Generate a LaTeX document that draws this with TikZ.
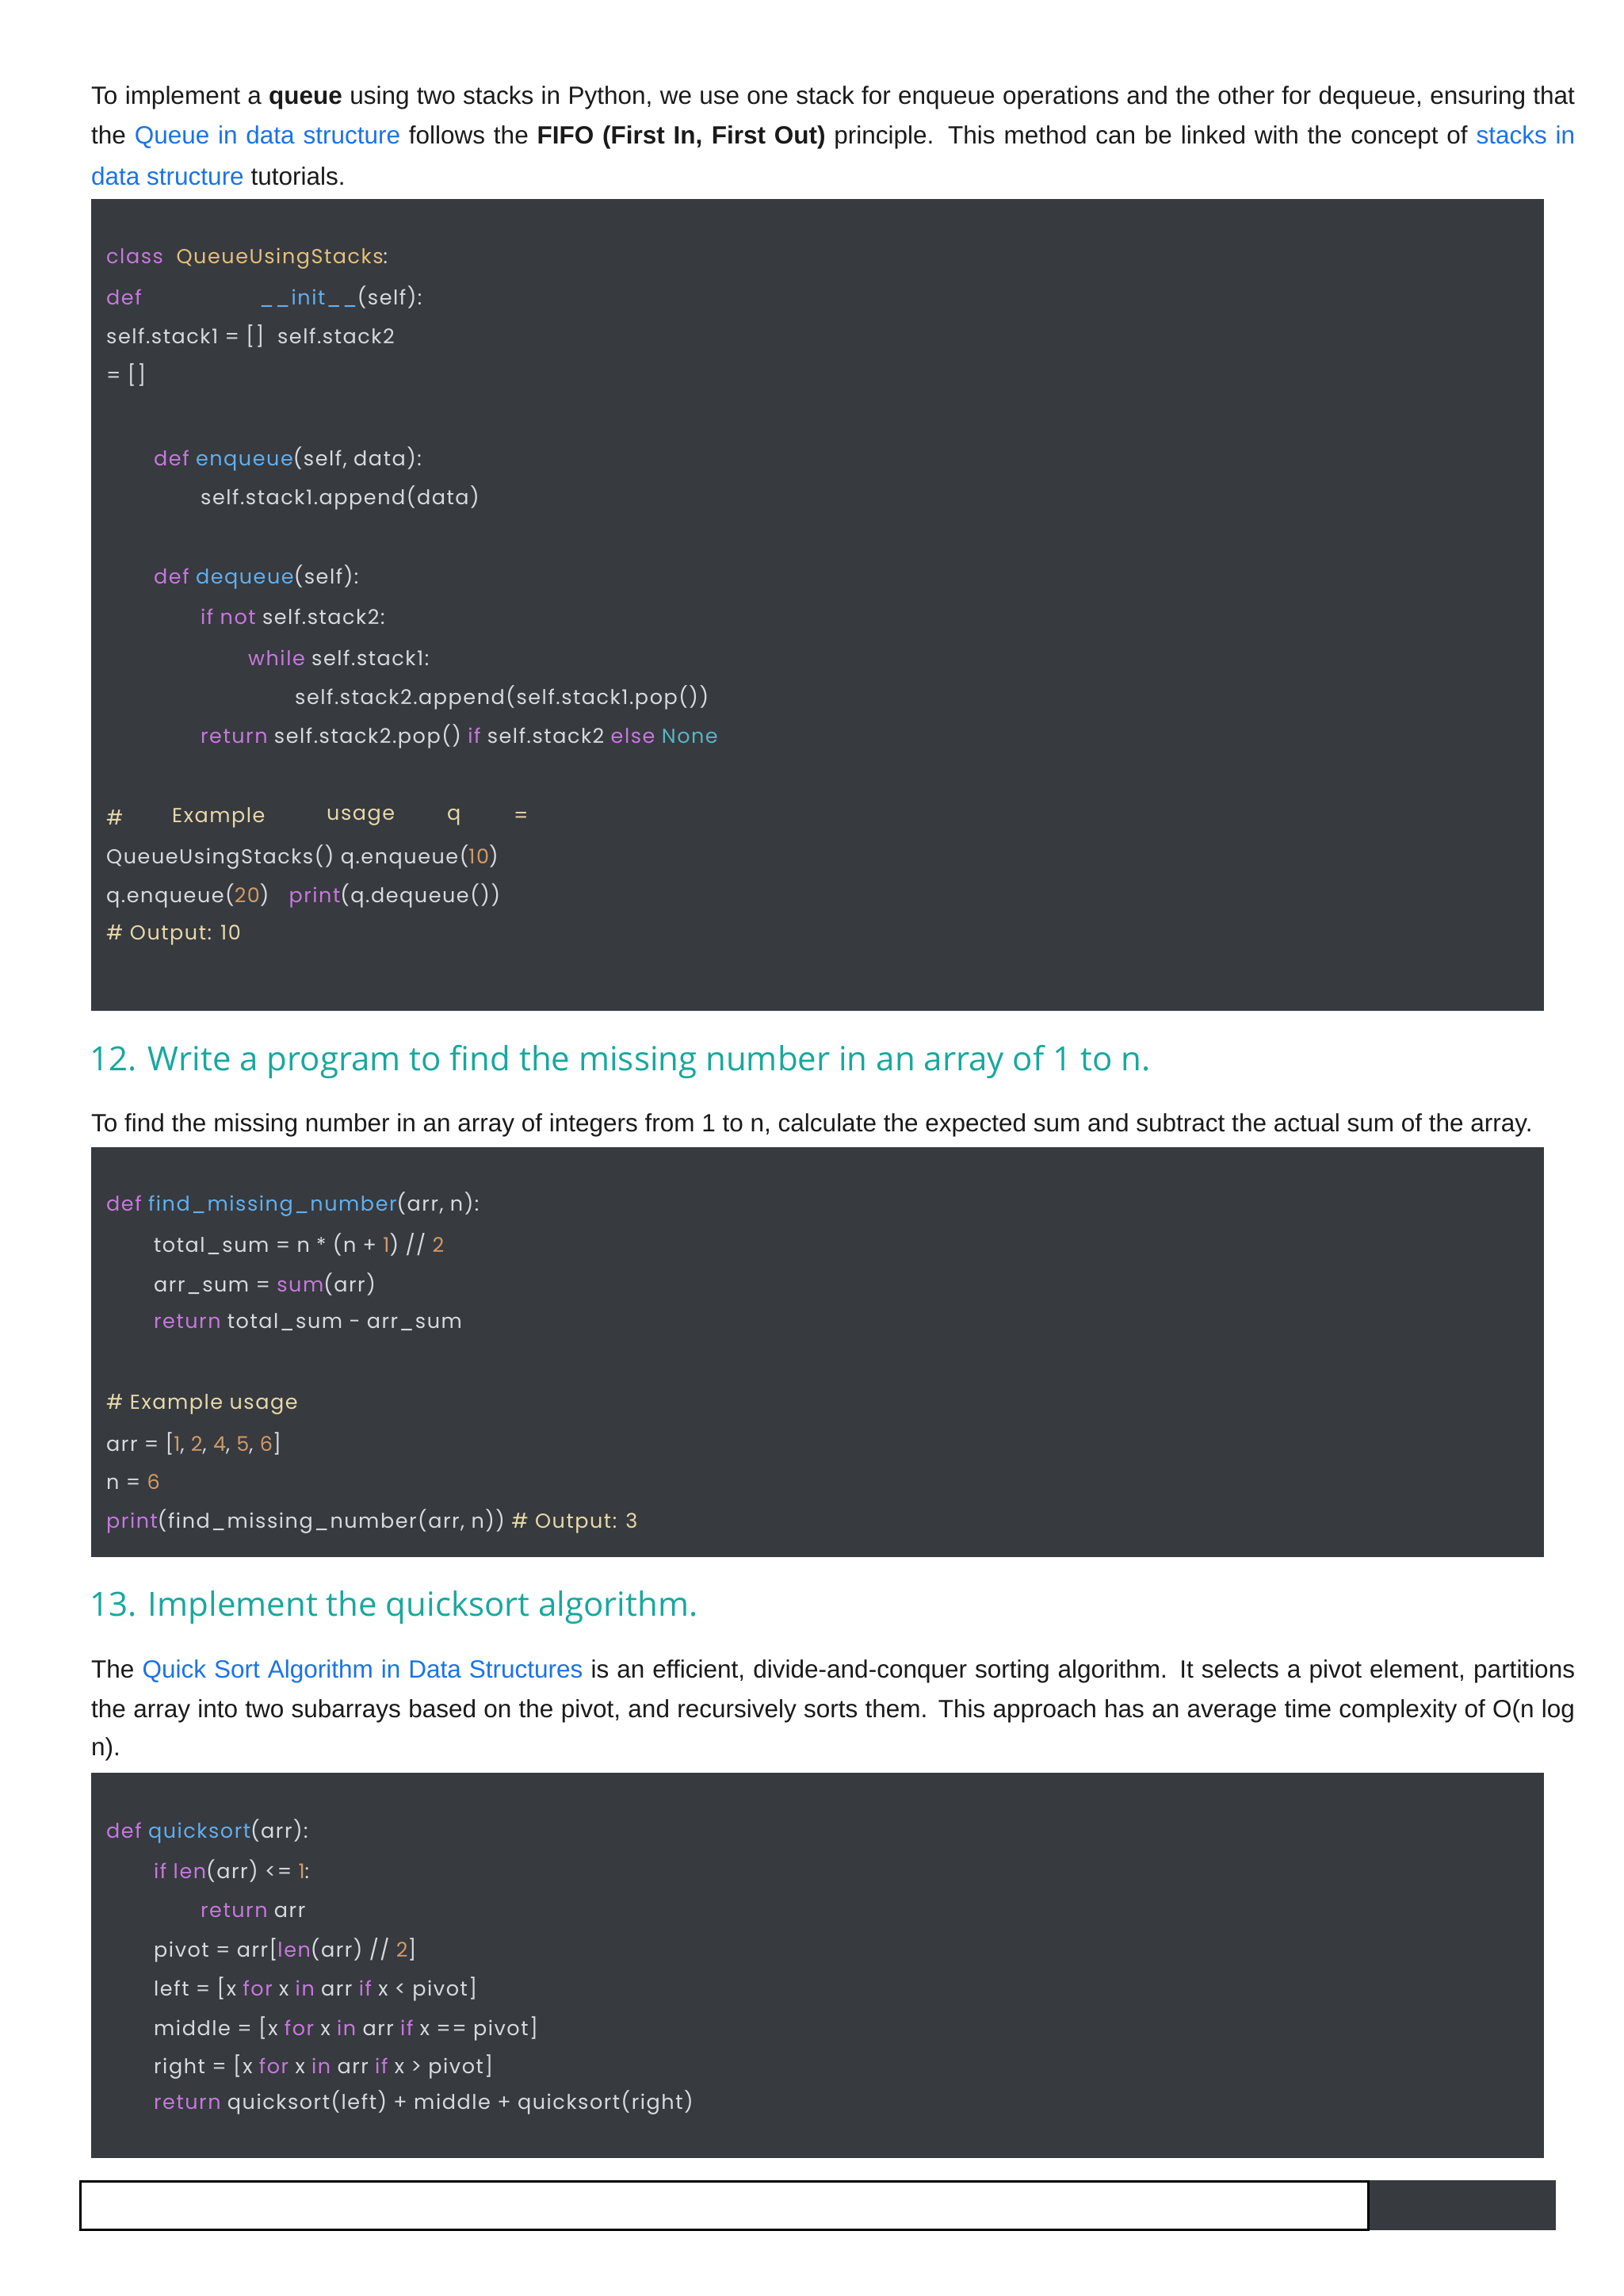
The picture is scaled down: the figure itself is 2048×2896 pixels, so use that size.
\documentclass[tikz,border=0pt]{standalone}
\usepackage{fontspec}
\setmainfont{Liberation Sans}
\newfontfamily\codefont{Poppins}[LetterSpace=6]
\newfontfamily\headfont{Open Sans}
\definecolor{bgc}{HTML}{373A3F}
\definecolor{kw}{HTML}{C678DD}
\definecolor{fn}{HTML}{61AFEF}
\definecolor{cls}{HTML}{E5C07B}
\definecolor{num}{HTML}{D19A66}
\definecolor{txt}{HTML}{D7DADF}
\definecolor{nonec}{HTML}{56B6C2}
\definecolor{cm}{HTML}{E8D9A8}
\definecolor{lnk}{HTML}{1A73E8}
\definecolor{head}{HTML}{17A89E}
\definecolor{body}{HTML}{1A1A1A}
\newcommand{\K}[1]{\textcolor{kw}{#1}}
\newcommand{\F}[1]{\textcolor{fn}{#1}}
\newcommand{\N}[1]{\textcolor{num}{#1}}
\newcommand{\Lk}[1]{\textcolor{lnk}{#1}}
\newcommand{\cl}[4]{\node[codeline] (#1) at (#2,#3) {#4};}
\newcommand{\bl}[4]{\node[bodyline] (#1) at (#2,#3) {#4};}
\begin{document}
\begin{tikzpicture}[x=1pt,y=-1pt,
  codeline/.style={anchor=west,inner sep=0pt,text=txt,font=\codefont\fontsize{25.5}{30}\selectfont},
  bodyline/.style={anchor=west,inner sep=0pt,text=body,font=\fontsize{31.5}{36}\selectfont},
  headline/.style={anchor=west,inner sep=0pt,text=head,font=\headfont\fontsize{42}{48}\selectfont},
  codebox/.style={fill=bgc,draw=none}]
\useasboundingbox[fill=white] (0,0) rectangle (2048,2896);
% paragraph 1
\bl{p1a}{115}{123}{\makebox[1872pt][s]{To implement a \textbf{queue} using two stacks in Python, we use one stack for enqueue operations and the other for dequeue, ensuring that}}
\bl{p1b}{115}{173}{\makebox[1872pt][s]{the \Lk{Queue in data structure} follows the \textbf{FIFO (First In, First Out)} principle. This method can be linked with the concept of \Lk{stacks in}}}
\bl{p1c}{115}{222}{\Lk{data structure} tutorials.}
% box 1
\path[codebox] (115,251) rectangle (1948,1275);
\cl{a1}{134}{326}{\K{class}\ \ \textcolor{cls}{QueueUsingStacks}:}
\cl{a2}{134}{375}{\K{def}}
\cl{a2b}{327}{375}{\F{\_\_init\_\_}(self):}
\cl{a3}{134}{424}{self.stack1 = []\ \ self.stack2}
\cl{a4}{134}{473}{= []}
\cl{a5}{194}{579}{\K{def} \F{enqueue}(self, data):}
\cl{a6}{253}{628}{self.stack1.append(data)}
\cl{a7}{194}{728}{\K{def} \F{dequeue}(self):}
\cl{a8}{253}{778}{\K{if} \K{not} self.stack2:}
\cl{a9}{313}{830}{\K{while} self.stack1:}
\cl{a10}{372}{880}{self.stack2.append(self.stack1.pop())}
\cl{a11}{253}{929}{\K{return} self.stack2.pop() \K{if} self.stack2 \K{else} \textcolor{nonec}{None}}
\cl{a12}{134}{1031}{\textcolor{cm}{\#}}
\cl{a12b}{217}{1031}{\textcolor{cm}{Example}}
\cl{a12c}{412}{1031}{\textcolor{cm}{usage}}
\cl{a12d}{564}{1031}{\textcolor{cm}{q}}
\cl{a12e}{648}{1031}{\textcolor{cm}{=}}
\cl{a13}{134}{1081}{QueueUsingStacks() q.enqueue(\N{10})}
\cl{a14}{134}{1130}{q.enqueue(\N{20})\ \ \ \K{print}(q.dequeue())}
\cl{a15}{134}{1179}{\textcolor{cm}{\# Output: 10}}
% heading 12
\node[headline] (h12) at (113,1339) {12. Write a program to find the missing number in an array of 1 to n.};
\bl{p2}{115}{1419}{To find the missing number in an array of integers from 1 to n, calculate the expected sum and subtract the actual sum of the array.}
% box 2
\path[codebox] (115,1447) rectangle (1948,1964);
\cl{b1}{134}{1519}{\K{def} \F{find\_missing\_number}(arr, n):}
\cl{b2}{194}{1570}{total\_sum = n * (n + \N{1}) // \N{2}}
\cl{b3}{194}{1620}{arr\_sum = \K{sum}(arr)}
\cl{b4}{194}{1668}{\K{return} total\_sum - arr\_sum}
\cl{b5}{134}{1771}{\textcolor{cm}{\# Example usage}}
\cl{b6}{134}{1821}{arr = [\N{1}, \N{2}, \N{4}, \N{5}, \N{6}]}
\cl{b7}{134}{1869}{n = \N{6}}
\cl{b8}{134}{1919}{\K{print}(find\_missing\_number(arr, n)) \textcolor{cm}{\# Output: 3}}
% heading 13
\node[headline] (h13) at (113,2028) {13. Implement the quicksort algorithm.};
\bl{p3a}{115}{2108}{\makebox[1872pt][s]{The \Lk{Quick Sort Algorithm in Data Structures} is an efficient, divide-and-conquer sorting algorithm. It selects a pivot element, partitions}}
\bl{p3b}{115}{2158}{\makebox[1872pt][s]{the array into two subarrays based on the pivot, and recursively sorts them. This approach has an average time complexity of O(n log}}
\bl{p3c}{115}{2206}{n).}
% box 3
\path[codebox] (115,2236) rectangle (1948,2722);
\cl{c1}{134}{2310}{\K{def} \F{quicksort}(arr):}
\cl{c2}{194}{2360}{\K{if} \K{len}(arr) <= \N{1}:}
\cl{c3}{253}{2410}{\K{return} arr}
\cl{c4}{194}{2460}{pivot = arr[\K{len}(arr) // \N{2}]}
\cl{c5}{194}{2509}{left = [x \K{for} x \K{in} arr \K{if} x < pivot]}
\cl{c6}{194}{2559}{middle = [x \K{for} x \K{in} arr \K{if} x == pivot]}
\cl{c7}{194}{2607}{right = [x \K{for} x \K{in} arr \K{if} x > pivot]}
\cl{c8}{194}{2652}{\K{return} quicksort(left) + middle + quicksort(right)}
% footer
\path[fill=bgc] (1726,2750) rectangle (1963,2813);
\draw[line width=3pt,black] (101,2751) rectangle (1726,2812);
\end{tikzpicture}
\end{document}
